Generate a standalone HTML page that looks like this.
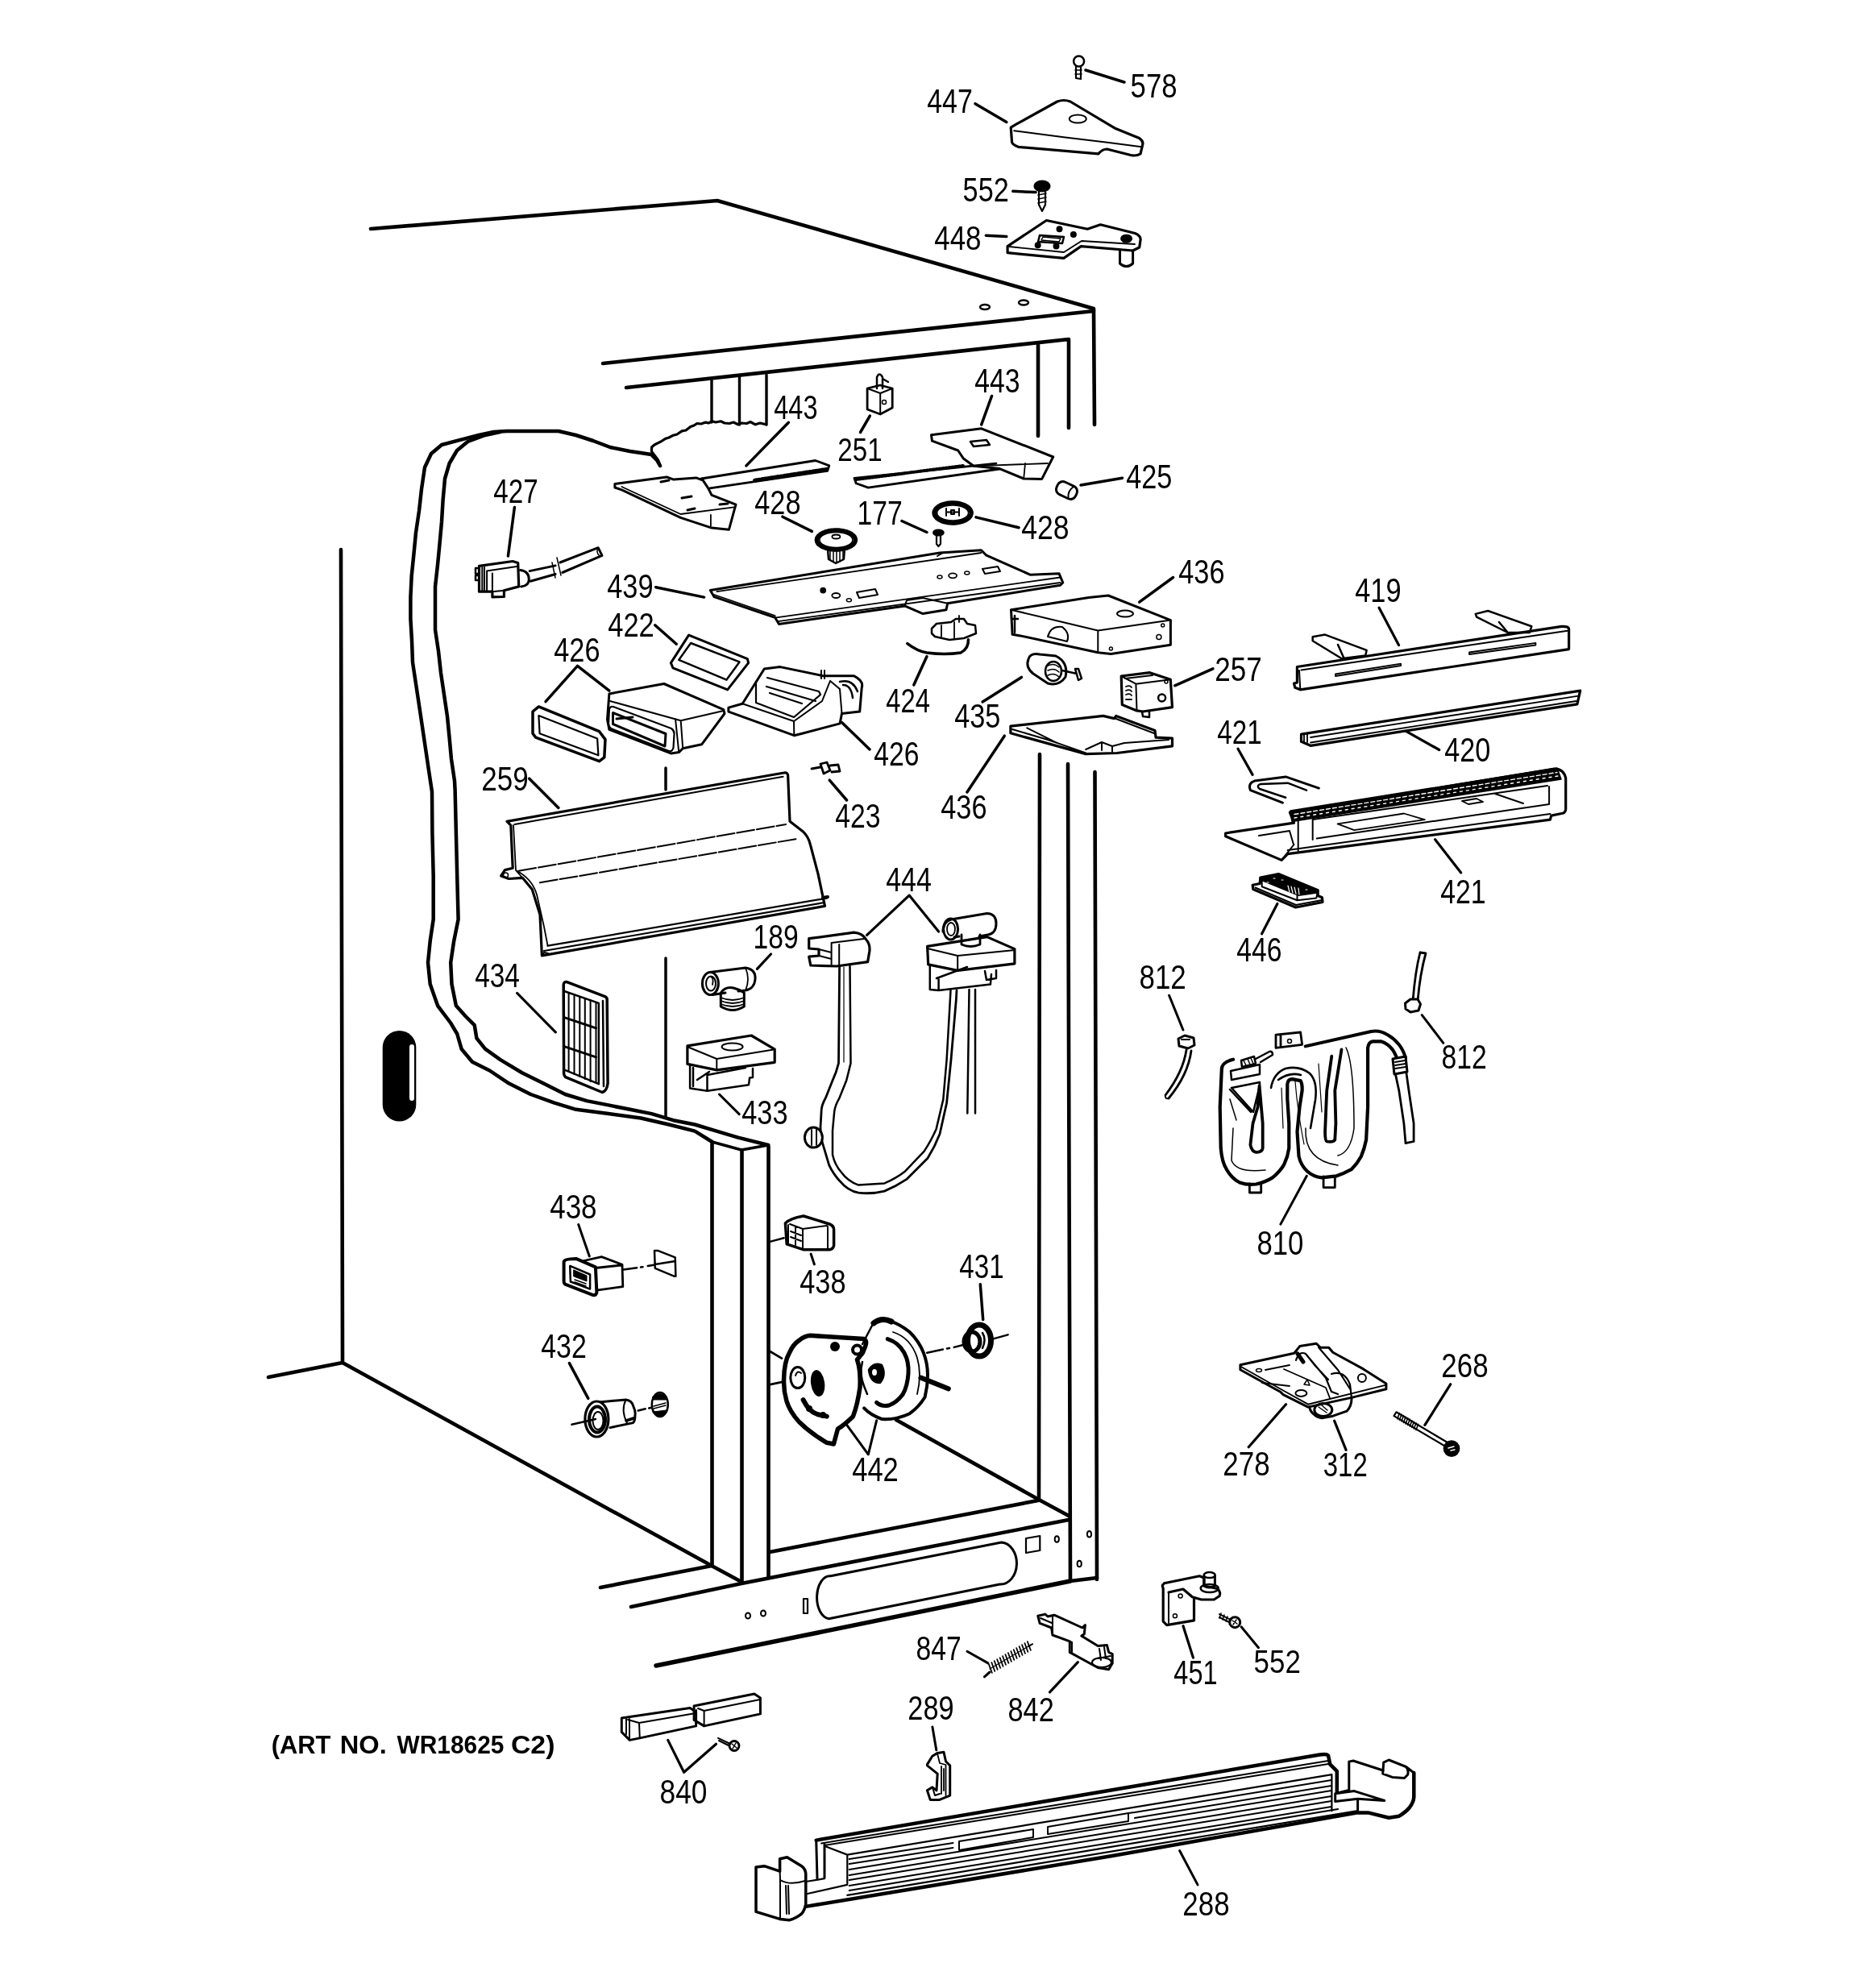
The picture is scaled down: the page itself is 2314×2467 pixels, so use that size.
<!DOCTYPE html>
<html><head><meta charset="utf-8"><style>
html,body{margin:0;padding:0;background:#fff;}
svg{display:block;}
text{font-family:"Liberation Sans",sans-serif;fill:#000;}
.t{will-change:transform;}
</style></head><body>
<svg width="2314" height="2467" viewBox="0 0 2314 2467">
<rect width="2314" height="2467" fill="#fff"/>
<g fill="none" stroke="#000" stroke-linecap="round" stroke-linejoin="round">
<!-- CABINET -->
<g id="cab" stroke-width="4.6">
<path d="M460,284 L890,249 L1357,383 L1358,527"/>
<path d="M748,451 L1357,386"/>
<path d="M777,481 L1326,421 L1326,531"/>
<path d="M1288,428 L1288,541"/>
<path d="M883,472 L883,524 M917.5,468 L917.5,527 M951,465 L951,527" stroke-width="3.4"/>
<ellipse cx="1222" cy="381" rx="6" ry="3" stroke-width="2.4"/>
<ellipse cx="1270" cy="375.5" rx="6" ry="3" stroke-width="2.4"/>
<path d="M423,682 L425,1691 L883,1943 L920,1963"/>
<path d="M333,1709 L425,1691"/>
<path d="M883.5,1419 L883.5,1943 M920.5,1427 L920.5,1963 M953.5,1423 L953.5,1958"/>
<path d="M1290,936 L1289,1861 M1325,948 L1328,1961 M1358.5,958 L1361,1960"/>
<path d="M826,1189 L826,1387 M826,953 L826,980" stroke-width="3.5"/>
<path d="M1112,1762 L1289,1861 L1326,1881"/>
<path d="M745,1970 L883,1943"/>
<path d="M783,1994 L920,1965 L1326,1886"/>
<path d="M955,1926 L1288,1862"/>
<path d="M1328,1962 L1361,1958"/>
<path d="M814,2067 L1328,1962" stroke-width="5.5"/>
</g>
<!-- insulation cutaway -->
<g stroke-width="4.5">
<path d="M819,578 L815,571 L808,564 L795,562 L781.5,560 L757,555 L736,547 L714.5,540 L693,535 L661,535 L629,535 L612.6,536 L594,540 L572,545.6 L548,552 L535,563 L527,580 L523,607 L520,634 L516,661 L513.4,688 L510.7,714.5 L509.4,741 L509.4,768 L511,795 L512,822 L516,848.5 L520,875 L524,902 L528,929 L532,956 L536,982.6 L536.4,1033.6 L537.7,1087.2 L537.7,1140.9 L533.7,1167.7 L531,1194.5 L533.7,1221.3 L543.1,1248.1 L559.2,1269.5 L567.2,1283 L572.6,1301.7 L586,1317.8 L607.5,1328.5 L631.6,1344.6 L658.4,1358 L687.9,1368.7 L714.7,1376.8 L754.9,1382.1 L795.1,1387.5 L830,1395.5 L862.1,1403.6 L883.6,1417"/>
<path d="M620.6,536 L602,540 L580.4,548 L567,559 L557.6,575 L552,594 L549.6,620.6 L548,647.5 L545.6,674 L543,701 L540,728 L540,754.7 L540,781.5 L544,808 L547,835 L551,862 L555,889 L557.6,915.5 L560,942 L564,969 L564.6,980 L565.9,1033.6 L567.2,1087.2 L568.6,1140.9 L563.2,1167.7 L559.2,1194.5 L560.5,1221.3 L565.9,1248.1 L578,1261.5 L588.7,1272.2 L591.4,1288.3 L602,1301.7 L620.9,1315.1 L647.7,1331.2 L674.5,1344.6 L701.3,1358 L728.1,1366.1 L754.9,1371.4 L781.7,1376.8 L808.5,1382.1 L835.3,1390.2 L862.1,1395.5 L889,1403.6 L915.8,1411.6 L953.3,1421"/>
<path d="M883.6,1417 L920,1427 L953.3,1421" stroke-width="3.5"/>
<path d="M819.2,577.7 L816.6,571 L808.5,560.3 L808.5,555 L812,552 L816.6,549.6 L820,548 L826,544.2 L830,543 L835.3,540.2 L840,539 L846.1,534.9 L851,534 L856.8,529.5 L861,528 L864.8,525.5 L870,526 L875.5,524.1 L879,525 L883.6,522.8 L888,524 L894.3,522.8 L899,525 L905,525.5 L910,524 L915.8,526.8 L920,525 L926.5,525.5 L931,523.5 L937.2,526.8 L943,525 L950.6,526.8" stroke-width="3.2"/>
</g>
<!-- black oval -->
<rect x="474.7" y="1279" width="41.6" height="112.5" rx="20.8" fill="#000" stroke="none"/>
<rect x="508" y="1296" width="6" height="70" rx="3" fill="#fff" stroke="none"/>
<!-- bottom slot & holes -->
<g stroke-width="3">
<path d="M1030.6,1955.8 L1242.5,1914 A20,26 0 0 1 1240.4,1966 L1028.5,2008.7 A16,26.5 0 0 1 1030.6,1955.8 Z"/>
<path d="M1273,1909 L1290.3,1906 L1290.3,1924 L1273,1927 Z" stroke-width="2.2"/>
<ellipse cx="1311.3" cy="1910" rx="2.6" ry="3.8" stroke-width="2"/>
<ellipse cx="1339.2" cy="1940.5" rx="2.6" ry="3.8" stroke-width="2"/>
<ellipse cx="1351.5" cy="1903.8" rx="2.6" ry="3.8" stroke-width="2"/>
<rect x="997" y="1984" width="5" height="18" stroke-width="2.2"/>
<ellipse cx="928" cy="2005" rx="3" ry="3.5" stroke-width="2"/>
<ellipse cx="947" cy="2002" rx="3" ry="3.5" stroke-width="2"/>
</g>
<!-- TOP PARTS -->
<g stroke-width="3">
<!-- 578 screw -->
<circle cx="1338.6" cy="76" r="6.5" stroke-width="2.5"/>
<path d="M1335,82 L1335,97 L1341,98 L1341,82" stroke-width="2.2"/>
<path d="M1334,87 L1342,87 M1334,92 L1342,92" stroke-width="1.5"/>
<path d="M1347,87 L1395,102" stroke-width="3.5"/>
<!-- 447 cover -->
<path d="M1260.9,154.2 L1311.8,126 Q1320,123 1327.9,126 L1384.2,159.5 L1413.7,171.6 Q1419,175 1417.7,179.6 L1415,190.9 Q1410,194 1403,192.5 L1373.5,185 Q1368,185 1362.7,190.9 L1263.5,182.3 Q1255,179 1255.5,175.6 L1254.2,158.2 Z" stroke-width="3.2"/>
<path d="M1258.2,162.2 L1319.8,170.2 L1376,177 L1416.4,182.3" stroke-width="2"/>
<ellipse cx="1337.3" cy="147.5" rx="10.5" ry="5" stroke-width="2"/>
<path d="M1210,128.7 L1248.8,151.5" stroke-width="3.5"/>
<!-- 552 screw top -->
<ellipse cx="1293" cy="231" rx="9" ry="6" fill="#000"/>
<path d="M1289,236 L1289,254 L1293,262 L1297,254 L1297,236" stroke-width="2.2"/>
<path d="M1288,242 L1298,240 M1288,247 L1298,245 M1288,252 L1298,250" stroke-width="1.5"/>
<path d="M1256.8,237.3 L1285,238.6" stroke-width="3.5"/>
<!-- 448 hinge -->
<path d="M1250.1,305.6 L1298.4,273.5 L1349.3,284.2 L1365.4,278.8 L1408.3,289.5 Q1416,293 1415,298 L1413.7,307 L1405.6,311 L1341.3,305.6 L1319.8,320.4 L1250.1,313.7 Z" stroke-width="3.2"/>
<path d="M1252,306 L1320,313 L1342,299 L1408,303" stroke-width="1.8"/>
<path d="M1389.5,311 L1389.5,327 Q1397.6,334 1405.6,327 L1405.6,311" stroke-width="3"/>
<path d="M1288,300 L1290,292 L1320,294 L1318,302 Z" stroke-width="2.5"/>
<path d="M1292,298 L1294,294 L1316,296 L1314,300 Z" stroke-width="1.5"/>
<circle cx="1314.5" cy="284.2" r="2.5" fill="#000"/>
<circle cx="1331.9" cy="290.9" r="2.5" fill="#000"/>
<circle cx="1287.7" cy="304.3" r="2.5" fill="#000"/>
<circle cx="1310.5" cy="305.6" r="2.5" fill="#000"/>
<ellipse cx="1397.6" cy="296.2" rx="6" ry="4" fill="#000"/>
<path d="M1223.3,292.2 L1248.8,293.6" stroke-width="3.5"/>
<!-- 251 -->
<path d="M1076.1,482 L1092,478 L1107.2,482 L1107.2,506 L1092.2,514 L1076.1,508 Z" stroke-width="2.8"/>
<path d="M1076.1,482 L1092.2,488 L1107.2,482 M1092.2,488 L1092.2,514" stroke-width="2"/>
<path d="M1088,482 L1088,468 Q1091,461 1095,468 L1095,482 M1095,470 L1102,474" stroke-width="2.5"/>
<circle cx="1097" cy="499" r="2.6" stroke-width="1.5"/>
<path d="M1079.3,516.1 L1067.5,536.5" stroke-width="3.5"/>
<!-- 443 left plate -->
<path d="M762.9,600.4 L827.2,591.9 L835.8,595.1 L863.7,592.9 L872.3,596.1 L878.7,605.8 L883,614.4 L913,626.2 L910.9,633.7 L904.4,657.3 L883,655.1 L844.4,642.3 L771.4,607.9 L762.9,605 Z" stroke-width="3"/>
<path d="M844.4,638 L910.9,629.4 M881.9,639 L881.9,653 M771.4,604 L844.4,638" stroke-width="1.8"/>
<path d="M870.1,594 L1011.7,571.5 L1028.8,577.9 L1026.7,584.3 L880.8,605.8" stroke-width="2.8"/>
<path d="M936.6,596.1 L1026.7,582.2" stroke-width="5" stroke-dasharray="2 2"/>
<path d="M820,598 L830,596 M846,618 L858,616 M893,626 L903,625 M853,633 L862,631" stroke-width="3"/>
<path d="M925.9,577.9 L978.4,524.3" stroke-width="3.5"/>
<!-- 443 right plate -->
<path d="M1155.5,539.7 L1217.7,531.8 L1306.7,567 L1292.7,594.4 L1270.2,594 L1240.2,581.6 L1208,578.3 L1195.1,568.7 L1188.7,559 L1156.5,547.2 Z" stroke-width="3"/>
<path d="M1208,578.3 L1300,575 M1270.2,594 L1272,575" stroke-width="1.8"/>
<path d="M1204,548 L1224,546 L1228,552 L1208,554 Z" stroke-width="2.5"/>
<path d="M1060,593.4 L1235.9,575.1 M1062.2,599.8 L1077.2,605.1 L1240,582 M1060,593.4 L1062.2,599.8" stroke-width="2.8"/>
<path d="M1062,595 L1195,578" stroke-width="4" stroke-dasharray="2 2"/>
<path d="M1230.5,491.5 L1217.7,526.9" stroke-width="3.5"/>
<!-- 425 pin -->
<g transform="translate(1323.5,608.5) rotate(25)">
<rect x="-13" y="-8.5" width="26" height="17" rx="7" stroke-width="3"/>
<path d="M6,-8 Q1,0 6,8" stroke-width="2"/>
</g>
<path d="M1341,601.9 L1392.5,593.3" stroke-width="3.5"/>
<!-- 428 gear left -->
<path d="M1026.7,678 L1028,694 L1037,699 L1047,694 L1048.1,678" stroke-width="2.5"/>
<path d="M1030,680 L1030,694 M1034,682 L1034,697 M1038,682 L1038,698 M1042,682 L1042,697 M1046,680 L1046,694" stroke-width="1.5"/>
<ellipse cx="1037.4" cy="670" rx="24" ry="12" fill="#fff" stroke-width="5.5" stroke-dasharray="1.6 1.4"/>
<ellipse cx="1037.4" cy="670" rx="20.5" ry="9.5" stroke-width="1.6"/>
<path d="M1013.4,670 L1014,676 Q1037,690 1060,676 L1061.4,670" stroke-width="2.5"/>
<ellipse cx="1037.4" cy="666" rx="5" ry="2.5" stroke-width="1.8"/>
<path d="M970.9,641.2 L1007.4,659.4" stroke-width="3.5"/>
<!-- 177 screw -->
<path d="M1118.9,646.5 L1150,660.5" stroke-width="3.5"/>
</g>
<!-- MID-UPPER PARTS -->
<g stroke-width="2.8">
<!-- 177 screw -->
<ellipse cx="1164.4" cy="661" rx="6" ry="3.2" fill="#000"/>
<path d="M1162,663 L1162,675 L1164.4,678 L1167,675 L1167,663" stroke-width="2.2"/>
<!-- 428 gear right -->
<ellipse cx="1182.1" cy="636.5" rx="23" ry="12.5" stroke-width="5.5" stroke-dasharray="1.6 1.4"/>
<ellipse cx="1182.1" cy="636.5" rx="19.5" ry="9.5" stroke-width="1.6"/>
<path d="M1160,638 Q1162,648 1182,650 Q1202,648 1205,638" stroke-width="2.5"/>
<path d="M1174,631 L1174,640 M1190,631 L1190,640 M1174,635.5 L1190,635.5 M1180,633 L1184,633 L1184,638 L1180,638 Z" stroke-width="2"/>
<path d="M1211,641.9 L1264.1,654.7" stroke-width="3.5"/>
<!-- 439 plate -->
<path d="M881.3,732.6 L1166,686 L1217.5,682.7 L1223.9,689.2 L1278.6,713.3 L1314,711.7 L1318.8,723 L1315.6,726.2 L1175.7,748.7 L1174,756.7 L1145.1,761.6 L1122.6,751.9 L966.5,774.4 L961.7,766.4 L886.1,740.7 Z" stroke-width="3"/>
<path d="M963.3,766.4 L1315.6,716.5 M964.9,771.2 L1315.6,723 M889.3,734.2 L1217.5,686 M886.1,738 L961.7,764" stroke-width="1.8"/>
<path d="M1163,690 L1170,686 L1180,685 M1122.6,751.9 L1125,745 L1145,742 L1175.7,748.7" stroke-width="2"/>
<circle cx="1021.2" cy="732.6" r="2.5" fill="#000"/>
<ellipse cx="1037.3" cy="739" rx="5" ry="3" stroke-width="1.8"/>
<ellipse cx="1053.4" cy="744.8" rx="3" ry="2" stroke-width="1.5"/>
<ellipse cx="1166" cy="715.9" rx="3" ry="2" stroke-width="1.5"/>
<ellipse cx="1182.1" cy="714.3" rx="5" ry="3" stroke-width="1.8"/>
<ellipse cx="1199.8" cy="711" rx="3" ry="2" stroke-width="1.5"/>
<path d="M1063,735 L1086,731 L1089,738 L1066,742 Z M1219,706 L1238,703 L1241,709 L1222,712 Z" stroke-width="2"/>
<path d="M813.7,728.7 L873.6,741.1" stroke-width="3.5"/>
<!-- 436 box upper -->
<path d="M1254.5,756.7 L1351,741.6 L1375.1,739 L1452.4,769.6 L1452.4,800.2 L1378.4,811.4 L1362.3,809.8 L1265.8,788.9 L1256.1,787.3 Z" stroke-width="3"/>
<path d="M1254.5,756.7 L1362.3,782.5 L1452.4,769.6 M1362.3,782.5 L1362.3,809.8" stroke-width="2"/>
<path d="M1259,764 L1259,785 M1256,768 L1263,768" stroke-width="2.5"/>
<ellipse cx="1396" cy="761.6" rx="10" ry="4" stroke-width="2"/>
<path d="M1300,790 Q1304,776 1318,778 Q1328,786 1324,796 Z" stroke-width="2"/>
<circle cx="1437.9" cy="790.5" r="3" stroke-width="1.5"/>
<circle cx="1378.4" cy="805" r="2" stroke-width="1.5"/>
<circle cx="1442.7" cy="776" r="2" stroke-width="1.5"/>
<path d="M1413.7,747.1 L1455.6,716.5" stroke-width="3.5"/>
<!-- 424 thermostat -->
<path d="M1156,780 L1162,774 L1180,772 L1186,768 L1196,768 L1200,774 L1210,776 L1211,786 L1196,792 L1178,794 L1160,790 L1156,786 Z" stroke-width="2.5"/>
<path d="M1168,776 L1168,790 M1184,772 L1184,792 M1190,764 L1190,772" stroke-width="1.8"/>
<path d="M1125.8,798.6 Q1138,808 1150,810 Q1172,813 1192,810 Q1202,805 1201.4,793.7" stroke-width="3.5"/>
<path d="M1149.9,814.7 L1133.8,850" stroke-width="3.5"/>
<!-- 435 socket -->
<path d="M1276,818 Q1278,810 1290,812 L1310,814 Q1326,822 1322,840 Q1314,852 1300,848 L1282,836 Q1272,828 1276,818 Z" stroke-width="3"/>
<ellipse cx="1307" cy="833" rx="10" ry="12" stroke-width="2.5"/>
<path d="M1300,826 Q1308,822 1314,828 M1300,832 Q1308,828 1314,834 M1300,838 Q1308,834 1314,840" stroke-width="1.5"/>
<path d="M1318,832 L1336,836 M1334,830 L1338,844 L1342,842 L1338,830 Z" stroke-width="2.5"/>
<path d="M1267.4,840.4 L1219.1,871" stroke-width="3.5"/>
<!-- 422 gasket -->
<path d="M832.4,822.6 L854.6,788.1 L927.4,817.7 L928.6,822.6 L902.7,855.9 L834.9,828.8 Z" stroke-width="3"/>
<path d="M842.3,818.9 L857.1,798 L917.5,821.4 L901.5,843.6 Z" stroke-width="2.5"/>
<path d="M812.7,775.8 L839.3,799.2" stroke-width="3.5"/>
<!-- 426 left gasket -->
<path d="M661,883 L668.4,876.9 L743.6,907.7 L751,917.6 L749.8,939.8 L743.6,944.7 L664.7,915.1 L661,910.2 Z" stroke-width="3.5"/>
<path d="M668.4,888 L741.1,916.4 L742.4,937.3 L669.6,910.2 Z" stroke-width="2.2"/>
<!-- 426 left duct -->
<path d="M755.9,860.9 L823.8,848.5 L897.8,880.6 L899,885.5 L870.6,923.8 L847.2,928.7 L842.3,933.6 L832.4,934.9 L755.9,905.3 L753.5,892.9 Z" stroke-width="3"/>
<path d="M757,870 L844.7,894.2 L897.8,882 M844.7,894.2 L847.2,928.7 M838,892 L842.3,933.6" stroke-width="2"/>
<path d="M756,880 Q757,876 761,877 L833,904 Q837,907 836.5,911 L835.5,928 Q834,933 830,932 L758,904 Q755,902 755,898 Z" stroke-width="2.2"/>
<path d="M760.5,884.5 L826,910.5 L825,926 L760.5,898.5 Z" stroke-width="3"/>
<path d="M765,892 L785,890" stroke-width="3"/>
<path d="M677,870.7 L716.5,826.3 L755.9,857.2" stroke-width="3.5"/>
<!-- 426 right housing -->
<path d="M903.9,878.1 L921.2,873.2 L948.3,830 L968.1,827.6 L1021.1,838.7 L1059.3,838.7 Q1072,845 1069.2,853.5 L1066.7,883.1 L1044.5,885.5 L1042.1,897.9 L995.2,910.2 L985.3,912.7 L903.9,883.1 Z" stroke-width="3"/>
<path d="M938,846 L938,872 L985,890 L1018,862 M952,841 L1016,858 L1018,862 M951,852 L1012,870 M955,860 L995,873" stroke-width="2.2"/>
<path d="M921.2,873.2 L985,895 L1020,870 L1030,845 M985,895 L985.3,912.7 M1030,845 L1042,855 L1044.5,885.5" stroke-width="2"/>
<path d="M1042,846 Q1058,842 1064,858 M1046,850 Q1056,850 1058,866" stroke-width="2.5"/>
<path d="M1019,832 L1019,842 M1023,832 L1023,842" stroke-width="2"/>
<path d="M1044.5,896.6 L1079.1,929.9" stroke-width="3.5"/>
<!-- 423 -->
<path d="M1007,954 L1018,952 M1018,948 L1026,946 L1030,956 L1022,960 Z M1030,950 L1040,949 L1042,957 L1032,958" stroke-width="2.8"/>
<path d="M1029.2,968.1 L1050.6,993" stroke-width="3.5"/>
</g>
<!-- 427 sensor -->
<g stroke-width="2.8">
<path d="M594.5,702.3 L636,696.5 L642.7,698.5 L643.7,727.9 L625.4,732.7 L625.4,740.5 L610.9,740.9 L610.9,734.2 L594.5,734.2 Z" stroke-width="3.2"/>
<path d="M604.1,708.6 L642.7,702.8 M610.9,711.5 L610.9,732.7 M598.3,704 L598.3,734 M601,704 L601,734 M604.1,708.6 L604.1,733 M610.9,734.2 L625.4,732.7" stroke-width="2"/>
<path d="M594.5,705 L590,705 L590,712 L594.5,712 M594.5,714 L590,714 L590,720 L594.5,720" stroke-width="2.5"/>
<path d="M645.6,707.6 Q656.3,709 656.3,719 Q656.3,727 646.6,727.9" stroke-width="3"/>
<path d="M657.2,708.6 L689.1,701.9 M658.2,721.2 L689.1,712.5" stroke-width="3"/>
<path d="M685,698 L689,717 M691,692 L696,714" stroke-width="1.5"/>
<path d="M694.9,698 L742.2,679.7 L747,689.3 L697.8,710.5" stroke-width="3"/>
<path d="M742.2,679.7 Q739,686 744,690" stroke-width="1.5"/>
<path d="M638.4,629.5 L630.4,690.1" stroke-width="3.5"/>
</g>
<!-- 259 panel -->
<g stroke-width="3">
<path d="M629,1019.3 L972.8,959 Q977.7,958 977.7,963.8 L980,1019.3 L995.8,1031.4 Q1003,1038 1005.4,1048.2 L1015,1084.4 L1021.1,1113.4 L1023.5,1124.3 L672.4,1185.8 L670,1135.1 L660.3,1103.7 L648.3,1089.3 L631.4,1090.5 L621.7,1086.9 L626.5,1079.6 L636.2,1077.2 L633.8,1024.1 Z" stroke-width="3.2"/>
<path d="M638.6,1022.9 L971.6,963.8" stroke-width="2"/>
<path d="M637,1024 L640,1080 L648.3,1089.3 M640,1080 Q660,1090 666,1110 L675,1150 L679.6,1173.7" stroke-width="1.8"/>
<path d="M643.4,1080.8 L975.2,1022.9 M670,1095.3 L988.5,1041" stroke-width="2" stroke-dasharray="22 3"/>
<path d="M679.6,1173.7 L1025.9,1114.6 M675,1180 L1023,1120" stroke-width="2.2"/>
<path d="M1021,1114 L1027,1113" stroke-width="4"/>
<circle cx="627.5" cy="1086" r="3" stroke-width="1.5"/>
<path d="M672.4,1185.8 L675,1182 L680,1183" stroke-width="2"/>
<path d="M656.7,966.2 L692.9,1002.4" stroke-width="3.5"/>
</g>
<!-- 257 timer -->
<g stroke-width="2.8">
<path d="M1391.2,839 L1426.6,834.7 L1452.3,843.3 L1454.5,877.6 L1418,883 L1410.5,881.9 L1392.3,874.4 Z" stroke-width="3.2"/>
<path d="M1391.2,839 L1409.4,848.7 L1452.3,843.3 M1409.4,848.7 L1410.5,881.9 M1396,842 L1430,838" stroke-width="2"/>
<path d="M1397,852 Q1402,850 1404,853 M1397,857 Q1402,855 1404,858 M1397,862 Q1402,860 1404,863 M1397,868 L1404,868" stroke-width="1.8"/>
<circle cx="1441.6" cy="866" r="4.5" stroke-width="2.5"/>
<circle cx="1447" cy="846" r="2" stroke-width="1.5"/>
<path d="M1417,883 L1418,889 L1426,890 L1426,883" stroke-width="2.5"/>
<path d="M1457.7,850.8 L1504.9,829.8" stroke-width="3.5"/>
</g>
<!-- 436 lower tray -->
<g stroke-width="2.8">
<path d="M1253.9,901.2 L1368.7,888.4 L1382.6,891.6 L1384.8,888.4 L1433,906.6 L1434.1,915.2 L1454.5,916.2 L1454.5,925.9 L1385.8,934.5 L1347.2,935.6 L1253.9,909.8 Z" stroke-width="3.2"/>
<path d="M1274.3,903.4 L1310.8,921.6 L1347.2,934.5 M1256,905 L1300,918 L1312,922" stroke-width="2"/>
<path d="M1384.8,892 L1432,910 M1347.2,930 L1367,921 L1380,926 L1395,922 L1450,918 M1367,921 L1367,931 M1380,926 L1380,933" stroke-width="2"/>
<path d="M1246.3,913.2 L1199.9,983" stroke-width="3.5"/>
</g>
<!-- 419 bar -->
<g stroke-width="2.8">
<path d="M1609.4,827.5 L1937.6,777.3 Q1946.6,777 1946.6,781 L1946.6,805.6 L1613.3,855.8 L1606.8,853.3 L1605.5,848.1 L1609.4,847 Z" stroke-width="3.2"/>
<path d="M1614.5,831.4 L1946.6,782.5 M1612,832 L1613.3,855.8" stroke-width="2"/>
<path d="M1657,836.5 L1738.1,823.7 L1738.1,826 L1657,839 Z M1823,809.5 L1905.4,797.9 L1905.4,800.5 L1823,812 Z" stroke-width="1.8"/>
<path d="M1628.7,790.2 L1644.1,787.6 L1695.6,806.9 L1694.3,813.4 L1664.7,817.2 L1628.7,795.3 Z M1660,800 L1668,818" stroke-width="2.5"/>
<path d="M1830.8,761.9 L1846.2,758 L1900.3,777.3 L1897.7,785 L1870.7,785 L1832.1,765.7 Z M1860,772 L1870,784" stroke-width="2.5"/>
<path d="M1711.1,754.2 L1735.5,800.5" stroke-width="3.2"/>
</g>
<!-- 420 bar -->
<g stroke-width="2.8">
<path d="M1614.5,911.2 L1960.7,857.1 L1956.9,873.8 L1626.1,925.3 L1614.5,920.2 Z" stroke-width="3.2"/>
<path d="M1626.1,915 L1958.2,863.6 M1626.1,921.5 L1955.6,870 M1618,912 L1618,920 M1622,911 L1622,921" stroke-width="1.8"/>
<path d="M1744.5,907.3 L1785.7,930.5" stroke-width="3.2"/>
</g>
<!-- 421 top clip -->
<g stroke-width="2.8">
<path d="M1636.4,978.1 L1595.2,963.9 L1556.6,969.1 Q1548,972 1551.5,980.7 L1591.4,996.1" stroke-width="3"/>
<path d="M1621,980.7 L1597.8,971.7 L1564.4,972.9 Q1558,975 1563,979 L1595.2,989.7" stroke-width="2.5"/>
<path d="M1536,929.2 L1554.1,961.4" stroke-width="3.2"/>
</g>
<!-- 421 lower tray -->
<g stroke-width="2.8">
<path d="M1520.6,1034 L1605.5,1021.1 L1600.4,1008.2 L1928.6,954.2 Q1940,954 1942.7,965.7 L1942.7,1004.4 Q1942,1009 1937.6,1009.5 L1924.7,1012.1 L1923.4,1017.2 L1597.8,1059.7 L1590.1,1067.4 L1520.6,1037.8 Z" stroke-width="3.2"/>
<path d="M1601,1006 L1932,953 L1937,967 L1603,1019.5 Z" fill="#000" stroke-width="1.5"/>
<path d="M1606,1010.5 L1932,958.5" stroke="#fff" stroke-width="1.4" stroke-dasharray="5 3"/>
<path d="M1606,1015 L1933,963" stroke="#fff" stroke-width="1.4" stroke-dasharray="3 5"/>
<path d="M1610.7,1018 L1610.7,1056 M1628.7,1017 L1628.7,1042 M1633.8,1040.4 L1922.1,997.9 M1922.1,976 L1922.1,998 M1628.7,1017 L1920,975 M1597.8,1055 L1923.4,1010" stroke-width="2"/>
<path d="M1659.6,1022.4 L1742,1009.5 L1767.7,1017.2 L1680.2,1030.1 Z M1814,994 L1832,991 L1840,995 L1822,998 Z" stroke-width="1.8"/>
<path d="M1562,1037 L1600,1031 L1605,1048 M1590.1,1067.4 L1605.5,1048 M1855,985 L1890,997" stroke-width="2"/>
<path d="M1780.6,1041.7 L1812.7,1082.9" stroke-width="3.2"/>
</g>
<!-- 446 -->
<g stroke-width="2.8">
<path d="M1554.2,1098.3 L1563.2,1096.5 L1563.8,1089 L1586.3,1084.5 L1635.2,1104.7 L1635.2,1111.5 L1640.4,1113.8 L1641,1119.5 L1607.6,1126 L1554.8,1103.5 Z" stroke-width="3.2"/>
<path d="M1565.7,1092.5 L1564.5,1089.5 L1586.3,1085 L1634,1105 L1634,1108 L1611.4,1111.2 Z" fill="#000" stroke-width="1.5"/>
<path d="M1598,1099 L1600,1107 M1602,1100 L1604,1108 M1606,1101 L1608,1109 M1611,1102 L1612,1110" stroke="#fff" stroke-width="1.2"/>
<path d="M1580,1090 L1582,1090 M1590,1092 L1592,1092 M1572,1095 L1574,1095 M1620,1104 L1622,1104" stroke="#fff" stroke-width="1.2"/>
<path d="M1565.7,1092.5 L1565.7,1100.2 L1609.5,1117.3 L1633.3,1114.4 L1634.5,1108 M1609.5,1111 L1609.5,1117.3 M1557.5,1101.5 L1608,1123 L1640,1117" stroke-width="2"/>
<path d="M1584.9,1121.5 L1565.6,1158.8" stroke-width="3.2"/>
</g>
<!-- 189 tee -->
<g stroke-width="2.8">
<path d="M881,1206.5 L925,1201 Q938,1203 937,1215 Q936,1227 925,1229 L916,1230 M900,1232 L884,1234.5" stroke-width="3"/>
<ellipse cx="881.4" cy="1220.5" rx="10" ry="14" stroke-width="3"/>
<ellipse cx="882" cy="1220.5" rx="6" ry="9" stroke-width="2"/>
<path d="M925,1201 Q931,1215 925,1229 M884,1222 Q886,1214 882,1212" stroke-width="1.8"/>
<path d="M894.3,1232 Q900,1224 910,1226 Q918,1228 923.3,1232 L923.3,1249 Q909,1258 894.3,1249 Z" stroke-width="3"/>
<path d="M894.3,1238 Q909,1244 923.3,1238 M894.3,1242 Q909,1248 923.3,1242 M894.3,1246 Q909,1252 923.3,1246" stroke-width="1.8"/>
<path d="M956.5,1184 L939.4,1202.3" stroke-width="3.2"/>
</g>
<!-- 444 connectors + tubes -->
<g stroke-width="2.8">
<path d="M1003.7,1164.7 L1059.5,1157.2 Q1070,1158 1074.5,1165.8 Q1080,1172 1078.8,1180.8 L1076.6,1193.7 L1038,1199 L1005.8,1198 L1003.7,1187.2 L1016,1186 L1016,1178 L1003.7,1177 Z" stroke-width="3.2"/>
<path d="M1031.6,1170 L1031.6,1197 M1041.2,1172 L1041.2,1199 M1031.6,1170 L1072,1165 M1016,1178 L1031.6,1182 M1016,1186 L1031.6,1190" stroke-width="2"/>
<path d="M1041.6,1199 L1040.5,1319.4 Q1038,1330 1033,1340.8 L1024.5,1362.3 Q1019,1372 1019.1,1379.4 L1018,1398.7 Q1018,1412 1022.3,1424.4 L1028.7,1445.9 Q1034,1457 1041.6,1465.2 Q1052,1478 1065.2,1480.2 Q1082,1482 1097.4,1478.1 Q1112,1472 1125.3,1463.1 L1151,1437.3 Q1160,1423 1166,1407.3 L1174.6,1368.7 L1180,1315 L1186.4,1240 L1187,1229" stroke-width="2.8"/>
<path d="M1054.5,1199 L1055.5,1319.4 Q1053,1330 1050.2,1340.8 L1041.6,1362.3 Q1036,1372 1035.2,1379.4 L1033,1403 L1033,1433 Q1036,1446 1043.7,1454.5 Q1052,1466 1065.2,1470.6 L1097.4,1468.4 Q1112,1462 1123.1,1453.4 L1146.7,1428.7 Q1156,1414 1161.7,1400.9 L1170.3,1364.4 L1174.6,1315 L1178.9,1240 L1179.5,1229" stroke-width="2.5"/>
<path d="M1047,1200 L1047,1318" stroke-width="1.2"/>
<ellipse cx="1009.4" cy="1411.6" rx="11" ry="12.5" fill="#fff" stroke-width="3"/>
<path d="M1007,1402 L1007,1421 M1013,1401 L1013,1421" stroke-width="2"/>
<path d="M1150.6,1174.4 L1224.6,1162.6 L1258.9,1177.6 L1258.9,1195.8 L1188.2,1204.4 L1151.7,1196.9 Z" stroke-width="3.2"/>
<path d="M1150.6,1177 L1188.2,1186 L1258.9,1179 M1188.2,1186 L1188.2,1204.4" stroke-width="2"/>
<path d="M1153.8,1199 L1153.8,1228 L1164.6,1229 L1228.9,1221.6 L1230,1209 M1162,1214 L1200,1200 M1164.6,1215 L1164.6,1229 M1222,1205 L1224,1216 L1236,1214 L1236,1204" stroke-width="2.5"/>
<path d="M1170,1156 Q1170,1144 1180,1141 L1224.6,1133.6 Q1236,1134 1236,1146 Q1236,1158 1226,1160 L1215,1162 M1190,1162 L1184,1163" stroke-width="3"/>
<ellipse cx="1179.6" cy="1152.9" rx="9" ry="13" stroke-width="3"/>
<ellipse cx="1180" cy="1153" rx="5" ry="8" stroke-width="1.8"/>
<path d="M1193,1160 L1193,1172 Q1204,1177 1216,1172 L1216,1160" stroke-width="2.8"/>
<path d="M1202.5,1228 L1200.3,1381.6 M1210,1228 L1210,1381.6" stroke-width="2.5"/>
<path d="M1075.6,1160.4 L1128.1,1111.1 L1164.6,1156.1" stroke-width="3.2"/>
</g>
<!-- 433 -->
<g stroke-width="2.8">
<path d="M852.9,1297.9 L932.2,1285 L961.2,1302.2 L961.2,1318.3 L889.3,1327.9 L852.9,1320.4 Z" stroke-width="3.2"/>
<path d="M852.9,1299 L889.3,1314 L961.2,1302.2 M889.3,1314 L889.3,1327.9" stroke-width="2"/>
<ellipse cx="908.6" cy="1299" rx="13" ry="4.5" stroke-width="2"/>
<path d="M856.1,1322.6 L856.1,1350.5 L877.5,1353.7 L929,1346.2 L930.1,1337.6 L934,1337 L934,1326 M877.5,1353.7 L877.5,1334 L925,1325 M865,1340 L880,1330 M860,1325 L860,1348" stroke-width="2.5"/>
<path d="M892.5,1358 L917.2,1382.6" stroke-width="3"/>
</g>
<!-- 434 vent -->
<g stroke-width="2.8">
<path d="M699.2,1222 Q699.5,1218 703.5,1218.7 L750.6,1236.7 Q753.5,1238 753.2,1241 L754.1,1344.4 Q753,1354 747.2,1355.5 L701.7,1336.7 Q699.6,1334 699.6,1332.4 Z" stroke-width="3.5"/>
<path d="M700.9,1230.3 L742.9,1244.9 L742.9,1345.2 M701.7,1328.1 L742.9,1345.2 M748,1242 L749,1348" stroke-width="2.5"/>
<path d="M705.6,1232 L705.6,1330 M712.5,1234 L712.5,1333 M719.3,1237 L719.3,1336 M725.8,1239 L725.8,1339 M732.6,1241 L732.6,1342 M739.5,1244 L739.5,1344" stroke-width="2"/>
<path d="M700.9,1262.9 L739.5,1275.8 M700.9,1298.9 L739.5,1311.8" stroke-width="3"/>
<path d="M641.7,1232.5 L689.3,1280.9" stroke-width="3.2"/>
</g>
<!-- 812 left -->
<g stroke-width="2.8">
<path d="M1472,1303 Q1468,1330 1446,1359 M1478,1304 Q1474,1334 1450,1363" stroke-width="2.8"/>
<path d="M1446,1359 Q1445,1364 1450,1363" stroke-width="2"/>
<path d="M1462,1289 L1470,1285 L1481,1288 L1482,1297 L1474,1301 L1463,1298 Z" fill="#fff" stroke-width="3"/>
<path d="M1466,1290 L1476,1290" stroke-width="2"/>
<path d="M1450.6,1235.2 L1467.9,1278" stroke-width="3"/>
</g>
<!-- 812 right -->
<g stroke-width="2.8">
<path d="M1762,1182 Q1756,1205 1753,1242 M1769,1183 Q1762,1208 1759,1242 M1762,1182 L1769,1183" stroke-width="2.8"/>
<path d="M1743.5,1245 L1750,1240 L1759,1240 L1762.5,1246 L1760,1254 L1750,1256 L1744,1252 Z" fill="#fff" stroke-width="3"/>
<path d="M1764.3,1259.6 L1790.8,1294.3" stroke-width="3"/>
</g>
<!-- 810 heater -->
<g stroke-width="3">
<path d="M1530,1314.7 Q1516,1318 1515.8,1326.9 L1513.7,1373.7 L1514.7,1424.7 Q1516,1442 1521.9,1451.2 Q1528,1462 1538.2,1467.5 Q1548,1471 1558.5,1469.5 Q1570,1467 1578.9,1461.4 Q1588,1454 1593.2,1445.1 Q1598,1435 1599.3,1424.7 L1599.3,1394.1 L1597.3,1363.6 L1597.3,1345.2 Q1598,1339 1603.4,1339.1 L1613.6,1341.1 Q1616,1345 1615.6,1353.4 L1612.5,1373.7 L1609.5,1404.3 L1611.5,1434.9 Q1614,1446 1621.7,1453.2 Q1629,1460 1640,1461.4 L1658.4,1459.3 Q1668,1456 1676.7,1451.2 Q1684,1444 1688.9,1434.9 Q1693,1425 1695.1,1414.5 L1697.1,1373.7 L1697.1,1322.8 L1697.1,1300.4 Q1698,1293 1703.2,1292.3 L1713.4,1292.3 Q1722,1295 1727.7,1302.4 Q1733,1310 1735,1320" stroke-width="4.2"/>
<path d="M1619.7,1298.4 L1701.2,1280 Q1712,1278 1721.5,1284.1 Q1730,1289 1735.8,1296.3 Q1741,1303 1744,1312.6" stroke-width="4"/>
<path d="M1562.6,1347.3 L1560.6,1373.7 L1554.5,1394.1 L1551.4,1420.6 Q1553,1429 1558.5,1429.8 Q1566,1430 1566.7,1424.7 L1566.7,1394.1 L1562.6,1347.3" stroke-width="3.8"/>
<path d="M1652.3,1310.6 L1646.2,1353.4 L1644.1,1404.3 Q1644,1416 1646.2,1416.5 Q1654,1418 1656.3,1414.5 L1657.4,1394.1 L1656.3,1353.4 L1664.5,1302.4" stroke-width="3.8"/>
<path d="M1577,1350 Q1580,1332 1595,1326 Q1612,1322 1625,1332 Q1635,1342 1632,1365 L1626,1400 M1586,1340 Q1600,1330 1614,1334" stroke-width="2.6"/>
<path d="M1526,1364 L1534,1390 M1530,1400 L1528,1440 Q1534,1456 1570,1452 M1620,1400 Q1618,1440 1660,1446 M1670,1300 Q1680,1320 1680,1400 Q1676,1430 1660,1434" stroke-width="1.5"/>
<path d="M1607,1342 Q1610,1380 1618,1420 M1590,1350 L1592,1400 M1636,1320 L1640,1380" stroke-width="1.2"/>
<path d="M1527,1329 L1563,1321 L1563,1333 L1528,1340 Z M1528,1350 L1563,1343 L1563,1347 L1555,1380 Z M1526,1352 L1552,1380" stroke-width="2.5"/>
<path d="M1540,1316 L1556,1311 L1558,1320 L1541,1324 Z" stroke-width="2.5"/>
<path d="M1543,1316 L1546,1322 M1548,1314 L1551,1321 M1552,1313 L1555,1320" stroke-width="1.5"/>
<path d="M1558,1314 L1575,1305 Q1579,1304 1579,1309 L1564,1318" stroke-width="2.5"/>
<path d="M1583,1284.1 L1613.6,1281 L1615.6,1296.3 L1583,1300.4 Z M1589,1285 L1589,1299" stroke-width="2.8"/>
<circle cx="1600" cy="1292" r="2.5" stroke-width="1.5"/>
<path d="M1550.4,1469 L1550.4,1480 L1564.7,1480 L1564.7,1469 M1642.1,1460 L1642.1,1473.6 L1656.3,1473.6 L1656.3,1460" stroke-width="2.8"/>
<path d="M1729.7,1324.9 L1735.8,1353.4 L1741.9,1394.1 L1744,1418.6 L1754.1,1416.5 L1754.1,1394.1 L1748,1353.4 L1744,1324.9" stroke-width="2.8"/>
<path d="M1728,1314 L1744,1311 L1746,1330 L1730,1333 Z" fill="#fff" stroke-width="3"/>
<path d="M1731,1318 L1743,1316 M1731,1322 L1744,1320 M1731,1326 L1744,1324" stroke-width="1.8"/>
<path d="M1621.3,1459.2 L1588.9,1519.1" stroke-width="3"/>
</g>
<!-- 438 left -->
<g stroke-width="2.8">
<path d="M699.6,1566 Q700,1562 714.7,1561.9 L738.9,1572.4 L740.4,1604.1 Q739,1608 735.8,1607.1 L701.1,1593.6 Q699.6,1592 699.6,1590.5 Z" stroke-width="4"/>
<path d="M707.2,1570.9 L732.1,1581.5 L732.1,1599.6 L707.9,1590.5 Z" stroke-width="2.5"/>
<path d="M712,1576 L728,1583 L728,1590 L712,1584 Z" fill="#000" stroke-width="1"/>
<path d="M713,1588 L727,1593 M713,1591 L727,1596" stroke-width="1.5"/>
<path d="M722.3,1565 L746.4,1559.6 L772,1569.4 L772.8,1596.6 L740.4,1601.1 M738.9,1573.5 L771,1570" stroke-width="2.8"/>
<path d="M773.6,1575.4 L790.2,1573.2 M795,1572.5 L797.5,1572.2 M803.7,1570.9 L812.8,1569.4" stroke-width="2.5"/>
<path d="M812,1552.1 L816.6,1552.1 L837.7,1560.4 L838.4,1583.7 L836.2,1583.7 L812.8,1573.9 Z M812.8,1569 L838,1565" stroke-width="2.5"/>
<path d="M717.7,1519.6 L731.3,1558.9" stroke-width="3"/>
</g>
<!-- 432 grommet -->
<g stroke-width="2.8">
<path d="M743.4,1739.9 L776.6,1736.9 Q784,1738 785.6,1744.5 Q789,1752 787.9,1756.5 Q788,1763 785.6,1765.6 L757,1771.6" stroke-width="3"/>
<path d="M776.6,1737 Q770,1750 778,1766" stroke-width="2"/>
<path d="M777,1763 L786,1760" stroke-width="3.5"/>
<ellipse cx="740.4" cy="1761" rx="14.5" ry="22" fill="#fff" stroke-width="3.2"/>
<ellipse cx="741" cy="1761.5" rx="10" ry="16" stroke-width="4"/>
<ellipse cx="742" cy="1763" rx="6.5" ry="11" stroke-width="2"/>
<path d="M709.4,1767.8 L738.9,1761" stroke-width="2.5"/>
<path d="M791.7,1750.5 L800.7,1748.2 M805.2,1747.5 L808.3,1746.7" stroke-width="2.5"/>
<ellipse cx="818.8" cy="1743" rx="10" ry="15" stroke-width="2.5"/>
<path d="M810,1733 Q818.8,1726 827,1733 L827,1737 L810,1737 Z M810,1752 L827,1750 Q822,1760 814,1756 Z" fill="#000" stroke-width="1"/>
<path d="M811,1745 L826,1741 M811,1748 L826,1744" stroke-width="1.5"/>
<path d="M706.4,1691.6 L729.8,1735.4" stroke-width="3.5"/>
</g>
<!-- 438 right -->
<g stroke-width="2.8">
<path d="M974.4,1518 Q980,1512 997,1509 L1029.2,1519 Q1034.6,1521 1034.6,1526 L1034.6,1545.5 Q1034,1550 1029.2,1550.8 L997.4,1550.8 L976.2,1543.8 Z" stroke-width="3.5"/>
<path d="M980,1519 L996,1525 L996,1550 M978,1520 L978,1542 M996,1525 L1026,1521 M1027,1522 L1027,1549 M981,1528 L994,1533 M981,1535 L994,1540 M987,1522 L987,1545" stroke-width="2"/>
<path d="M956.3,1540.6 L972.6,1536.3" stroke-width="2.5"/>
<path d="M1006.1,1556.1 L1010.4,1568.9" stroke-width="3"/>
</g>
<!-- 442 damper -->
<g stroke-width="3">
<path d="M972.6,1711.3 Q973,1690 979.5,1678.7 Q984,1668 991.5,1663.3 Q998,1658 1005.2,1657.3 L1072.1,1661.6 Q1076,1664 1073.8,1670.2 L1070.4,1678.7 L1063.5,1687.3 Q1068,1700 1067,1721.6 Q1064,1743 1058.4,1757.7 Q1048,1768 1039.5,1773.1 L1034.4,1792 L1025.8,1790.3 Q1005,1778 991.5,1764.5 Q980,1752 976,1738.8 Q972,1725 972.6,1711.3 Z" stroke-width="5.5"/>
<ellipse cx="989.8" cy="1709.6" rx="9" ry="13" stroke-width="3"/>
<path d="M987,1707 Q989,1700 994,1704" stroke-width="2"/>
<ellipse cx="1014.6" cy="1716.5" rx="8.5" ry="16.5" fill="#000" stroke="none" transform="rotate(-8 1014.6 1716.5)"/>
<path d="M996.6,1737.1 Q1004,1752 1014,1755 L1025.8,1757.7" stroke-width="6"/>
<circle cx="1004" cy="1748" r="4" fill="#000" stroke="none"/><circle cx="1021" cy="1756" r="4" fill="#000" stroke="none"/>
<circle cx="1036" cy="1671" r="6" fill="#000" stroke="none"/>
<circle cx="1063.5" cy="1675" r="5.5" fill="#fff" stroke-width="4"/>
<path d="M955.4,1677 L970,1685.6 M955.4,1718.2 L970.9,1714.8" stroke-width="2.8"/>
<path d="M1084,1642 Q1094,1634 1106,1640" stroke-width="7"/>
<path d="M1084.1,1641 Q1094,1636 1104.7,1639.3 Q1118,1644 1128.7,1653 Q1140,1664 1145.9,1678.7 Q1151,1692 1151,1706.2 Q1151,1720 1147.6,1733.7 Q1140,1746 1128.7,1754.2 Q1112,1762 1094.4,1761.1 Q1080,1756 1072.1,1747.4" stroke-width="4"/>
<path d="M1101.3,1661.6 Q1115,1666 1121.9,1678.7 Q1128,1690 1127,1704.5 Q1126,1720 1120.2,1730.2 Q1113,1740 1103,1744 Q1094,1746 1087.6,1740.5" stroke-width="5"/>
<path d="M1108,1653 Q1130,1660 1138,1685 Q1144,1705 1138,1730" stroke-width="1.8"/>
<path d="M1070,1668 L1084.1,1641 M1070,1690 Q1066,1705 1072,1720 L1076,1730" stroke-width="2.5"/>
<path d="M1142.5,1709.6 L1176.8,1723.4" stroke-width="6"/>
<path d="M1078,1700 Q1084,1690 1094,1694 Q1100,1706 1092,1716 Q1080,1716 1078,1700 Z" fill="#000" stroke-width="2.5"/>
<ellipse cx="1085" cy="1703" rx="3" ry="4" fill="#fff" stroke="none"/>
<path d="M1150.2,1678.7 L1169.9,1674.5 M1175,1673.5 L1178,1672.9 M1183.7,1671.9 L1194,1669.3" stroke-width="2.5"/>
<path d="M1049.8,1767.1 L1077.3,1804.9 L1087.6,1762.8" stroke-width="3"/>
</g>
<!-- 431 -->
<g stroke-width="3">
<ellipse cx="1206" cy="1665" rx="10" ry="12" stroke-width="5"/>
<ellipse cx="1215" cy="1663.5" rx="14.5" ry="19.5" stroke-width="7"/>
<path d="M1213,1655 Q1218,1662 1213,1672 M1219,1654 Q1224,1662 1219,1673" stroke-width="2.5"/>
<path d="M1231.7,1661.6 L1250.6,1656.4" stroke-width="2.5"/>
<path d="M1216.3,1593.8 L1219.7,1637.6" stroke-width="3.5"/>
</g>
<!-- 278 / 312 / 268 -->
<g stroke-width="2.8">
<path d="M1538.9,1693.8 L1605.8,1679.2 L1612.7,1670.6 L1633.2,1667.2 L1638.4,1672.3 L1648.7,1672.3 L1653.8,1678.3 L1691.6,1698.9 L1719.9,1716.9 L1719.9,1723.8 L1677.9,1734.1 L1623,1746.1 L1592.1,1730.6 L1588.6,1727.2 L1538.9,1699.8 Z" stroke-width="3"/>
<path d="M1538.9,1695.5 L1592.1,1725.5 L1623,1742.7 L1719.9,1718.6" stroke-width="2"/>
<path d="M1624.7,1746.1 Q1626,1752 1629.8,1754.7 Q1634,1759 1640.1,1759.8 L1653.8,1757.2 L1671,1751.2 Q1677,1745 1677,1735.8" stroke-width="3"/>
<ellipse cx="1641.8" cy="1749.5" rx="11" ry="8" stroke-width="3"/>
<path d="M1636,1746 L1646,1753 M1640,1744 L1647,1750" stroke-width="1.5"/>
<path d="M1608,1688 Q1612,1676 1620,1680 L1645,1710 L1652,1727 L1660,1730 M1620,1680 L1632,1695 L1648,1712 M1636,1672 L1660,1700 L1676,1725 M1652,1705 Q1668,1700 1675,1718 L1677,1735" stroke-width="2.2"/>
<path d="M1610,1680 L1617,1690" stroke-width="5"/>
<path d="M1593,1699 L1645,1722 L1650,1735 M1570,1700 L1600,1694 M1566,1716 L1600,1720" stroke-width="1.8"/>
<ellipse cx="1614.4" cy="1728.9" rx="7" ry="4" stroke-width="2"/>
<circle cx="1689.9" cy="1710" r="5" stroke-width="2"/>
<ellipse cx="1562" cy="1700.6" rx="3.5" ry="2" stroke-width="1.5"/>
<path d="M1618,1718 L1622,1712 L1625,1719 Z" stroke-width="1.5"/>
<path d="M1595.5,1742.7 L1549.2,1795.8 M1655.6,1763.2 L1670.1,1799.3 M1799.7,1717.8 L1767.9,1768.4" stroke-width="3.2"/>
<path d="M1729.6,1757.1 L1793.1,1794.8 M1732.4,1752.3 L1795.9,1790.0 M1729.6,1757.1 L1732.4,1752.3" stroke-width="2.2"/>
<path d="M1733.8,1760.8 L1736.4,1753.5 M1736.4,1762.3 L1739.0,1755.0 M1738.9,1763.8 L1741.5,1756.5 M1741.5,1765.4 L1744.1,1758.1 M1744.1,1766.9 L1746.7,1759.6 M1746.7,1768.4 L1749.3,1761.1 M1749.3,1770.0 L1751.9,1762.7 M1751.8,1771.5 L1754.4,1764.2 M1754.4,1773.0 L1757.0,1765.7 M1757.0,1774.6 L1759.6,1767.3 " stroke-width="1.6"/>
<circle cx="1801" cy="1797.6" r="9" fill="#000"/>
<path d="M1797,1797 L1804,1795 M1800,1800 L1805,1799" stroke="#fff" stroke-width="1.5"/>
</g>
<!-- 847 spring -->
<g stroke-width="2.5">
<path d="M1221.4,2080.8 L1228,2075" stroke-width="3"/>
<path d="M1230.8,2075.8 L1226.9,2065.2 M1234.2,2073.8 L1230.4,2063.2 M1237.6,2071.8 L1233.8,2061.2 M1241.1,2069.8 L1237.2,2059.2 M1244.5,2067.8 L1240.7,2057.2 M1247.9,2065.8 L1244.1,2055.2 M1251.3,2063.8 L1247.5,2053.2 M1254.8,2061.8 L1250.9,2051.2 M1258.2,2059.8 L1254.4,2049.2 M1261.6,2057.8 L1257.8,2047.2 M1265.1,2055.8 L1261.2,2045.2 M1268.5,2053.8 L1264.7,2043.2 M1271.9,2051.8 L1268.1,2041.2 M1275.3,2049.8 L1271.5,2039.2 M1278.8,2047.8 L1274.9,2037.2 " stroke-width="1.8"/><path d="M1228,2071 L1276,2043" stroke-width="1.2"/>
<path d="M1276,2043 L1281.1,2040.2" stroke-width="2"/>
<path d="M1200,2049.2 L1225.9,2063.9" stroke-width="3"/>
</g>
<!-- 842 latch -->
<g stroke-width="2.8">
<path d="M1287.8,2005.3 L1296.8,2003.1 L1300,2006 L1308.1,2004.2 L1343,2020 L1346.4,2016.6 L1345.3,2027.8 L1341.9,2030.1 L1362.2,2042.5 L1373.4,2041.4 L1375.7,2050.4 L1380.2,2052.6 L1380.2,2063.9 L1375.7,2071.8 L1362.2,2069.5 L1327.3,2050.4 L1327.3,2036.8 L1305.9,2029 L1304.7,2020 L1290.1,2014.3 Z" stroke-width="3"/>
<path d="M1306,2005 L1306,2029 M1327.3,2036.8 L1330,2038 L1330,2050 M1291,2008 L1305,2014 M1362.2,2058 L1378,2055 M1364,2046 L1366,2060 M1370,2044 L1372,2058" stroke-width="2"/>
<ellipse cx="1367" cy="2063" rx="12" ry="6" stroke-width="2.2"/>
<path d="M1337.4,2062.7 L1302.5,2099.9" stroke-width="3.2"/>
</g>
<!-- 451 hinge -->
<g stroke-width="3">
<path d="M1444.4,1964.8 L1488.3,1955.8 L1493.9,1958 L1493.9,1968 L1510.8,1971.5 Q1515,1976 1513.1,1980.5 L1506.3,1985 L1490.5,1985 L1479.3,1981.7 L1468,1972 L1450,1976 M1444.4,1964.8 Q1441,1967 1443.2,1971 L1443.2,2012.1 L1447.7,2016.6 L1481.5,2010.9 L1481.5,1983.9" stroke-width="3.2"/>
<path d="M1450,1976 L1450,2014" stroke-width="2"/>
<path d="M1493.9,1955.8 L1493.9,1968 Q1500,1972 1507.4,1968 L1507.4,1955.8" stroke-width="3"/>
<ellipse cx="1500.7" cy="1954.6" rx="7" ry="3.5" stroke-width="2.5"/>
<ellipse cx="1500.7" cy="1971" rx="11" ry="5" stroke-width="2.5"/>
<circle cx="1464.6" cy="1980.5" r="2.5" stroke-width="1.5"/>
<circle cx="1457.9" cy="2005.3" r="2.5" stroke-width="1.5"/>
<path d="M1468,2017.7 L1480.4,2057.1" stroke-width="3.2"/>
</g>
<!-- 552 lower screw -->
<g stroke-width="2.5">
<path d="M1513.1,2003.1 L1527,2010 M1513,2007 L1525,2013" stroke-width="2"/>
<path d="M1515,2002 L1513,2008 M1519,2004 L1517,2010 M1523,2006 L1521,2012" stroke-width="1.5"/>
<circle cx="1532.2" cy="2013.2" r="6.5" stroke-width="3"/>
<path d="M1529,2011 L1535,2015 M1534,2010 L1530,2016" stroke-width="1.5"/>
<path d="M1540.1,2018.8 L1561.5,2044.7" stroke-width="3"/>
</g>
<!-- 289 clip -->
<g stroke-width="2.8">
<path d="M1150.4,2189.6 L1156.8,2179.3 L1163.2,2175.4 L1171,2174.2 L1173.5,2185.7 L1178.7,2190.9 L1178.7,2228.2 L1165.8,2233.4 L1154.2,2233.4 L1150.4,2221.8 L1156.8,2217.9 L1162,2221.8 L1163.2,2201.2 L1150.4,2190.9" stroke-width="3"/>
<path d="M1163,2176 L1166,2188 L1173.5,2190 L1173.5,2228 M1168,2192 L1168,2226 M1171,2195 L1171,2222" stroke-width="1.8"/>
<path d="M1157,2218 L1160,2228 L1166,2226" stroke-width="2"/>
<path d="M1156.9,2142.9 L1161.8,2171.8" stroke-width="3"/>
</g>
<!-- 840 -->
<g stroke-width="2.8">
<path d="M771.3,2131.9 L856.1,2119.5 L863.6,2124.4 L863.6,2141.9 L793.8,2156.9 L781.3,2159.4 L771.3,2149.4 Z" stroke-width="3"/>
<path d="M779,2134 L793,2138 L863,2126 M793,2138 L793.8,2156.9 M777,2133 L777,2152 M781,2133 L781,2158" stroke-width="2"/>
<path d="M861.1,2117 L935.9,2102 L943.4,2107 L943.4,2126.9 L873.6,2141.9 L861.1,2134.4 Z" stroke-width="3"/>
<path d="M866,2120 L873.6,2123 L943,2109 M873.6,2123 L873.6,2141.9 M864,2122 L864,2136" stroke-width="2"/>
<path d="M891,2156.9 L906,2164 M892,2160 L904,2166" stroke-width="2"/>
<circle cx="911" cy="2166.5" r="6" stroke-width="2.8"/>
<path d="M908,2164 L914,2169 M913,2163 L909,2170" stroke-width="1.5"/>
<path d="M828.7,2159.4 L848.6,2199.3 L888.5,2164.3" stroke-width="3.2"/>
</g>
<!-- 288 grille -->
<g stroke-width="3">
<path d="M938,2317 L948.3,2315.7 L967.6,2322.2 L967.6,2306.7 L976.6,2304.7 L994.6,2315.7 Q999.8,2320 999.8,2326 L999.8,2363.3 Q998,2371 994.6,2374.9 Q987,2381 979.2,2382.7 L967.6,2381.4 L938,2372.4 Z" stroke-width="3.5"/>
<path d="M967.6,2322.2 L968,2333 Q980,2340 999,2334 M968,2333 L968,2381 M975,2340 L976,2375 M978,2340 L979,2375" stroke-width="2"/>
<path d="M1012.7,2283.6 L1637.4,2177.5 Q1646,2176 1648.1,2178.6 L1650.2,2189.3 L1658.8,2197.9 L1658.8,2223.6" stroke-width="4.5"/>
<path d="M1019.1,2287.4 L1648.1,2185 M1023,2290 L1648,2189" stroke-width="2"/>
<path d="M1012.7,2283.6 L1014,2331.2 M1023,2288.7 L1023,2329.9" stroke-width="3"/>
<path d="M1024.2,2291.3 L1051.3,2301.6 L1051.3,2337.6 M1051.3,2301.6 L1652.4,2202.2 L1652.4,2247.2" stroke-width="2.2"/>
<path d="M999.8,2365.9 L1380,2303 L1684.6,2249.4 L1697.4,2249.4 L1723.2,2255.8 L1736,2253.7 Q1745,2248 1748.9,2243 Q1754,2236 1754.3,2230.1 L1754.3,2200" stroke-width="4.5"/>
<path d="M999.8,2335 L1023,2331.2 M999.8,2350.5 L1051.3,2338.9 M1051.3,2351.8 L1684.6,2247 M1053.8,2346 L1660,2245" stroke-width="2.2"/>
<path d="M1053.8,2307 L1182.5,2287 M1053.8,2313 L1182.5,2293 M1053.8,2320 L1652,2222 M1053.8,2327 L1652,2229 M1053.8,2333 L1652,2235 M1053.8,2340 L1652,2242 M1190,2285 L1190,2296 L1282,2280 L1282,2270 L1190,2285 M1300,2267 L1300,2276 L1400,2260 L1400,2250 Z M1408,2249 L1652,2209 M1408,2256 L1652,2216 M1400,2250 L1408,2249" stroke-width="2"/>
<path d="M1673.8,2186.1 L1673.8,2221.5 L1656.7,2225.8 L1656.7,2235.4 L1684.6,2232.2 L1717.8,2234.4 L1680.3,2222.6 L1656.7,2225.8 M1684.6,2232.2 L1684.6,2249.4 M1673.8,2186.1 L1679,2185 L1716,2197" stroke-width="3"/>
<path d="M1716.7,2187.2 L1723.2,2184 L1744.6,2192.5 Q1748,2197 1746.7,2202.2 L1742.5,2206.5 L1727.5,2205.4 L1715.7,2201.1 Z M1744.6,2192.5 L1754.3,2200" stroke-width="3"/>
<path d="M1463.6,2296.5 L1486,2338.9" stroke-width="3"/>
</g>

</g>
<g class="t" opacity="0.999">
<text transform="translate(1402.6,120.8) scale(0.835,1)" font-size="41.6" font-weight="normal">578</text>
<text transform="translate(1150.2,139.7) scale(0.792,1)" font-size="42.8" font-weight="normal">447</text>
<text transform="translate(1194.6,250.3) scale(0.824,1)" font-size="41.6" font-weight="normal">552</text>
<text transform="translate(1159.2,309.8) scale(0.841,1)" font-size="41.6" font-weight="normal">448</text>
<text transform="translate(960.3,520.3) scale(0.781,1)" font-size="41.6" font-weight="normal">443</text>
<text transform="translate(1209.2,487.3) scale(0.811,1)" font-size="41.6" font-weight="normal">443</text>
<text transform="translate(1039.3,572.3) scale(0.797,1)" font-size="41.6" font-weight="normal">251</text>
<text transform="translate(1397.2,606.3) scale(0.825,1)" font-size="41.6" font-weight="normal">425</text>
<text transform="translate(612.3,623.5) scale(0.788,1)" font-size="42.2" font-weight="normal">427</text>
<text transform="translate(936.2,638.3) scale(0.826,1)" font-size="41.6" font-weight="normal">428</text>
<text transform="translate(1063.5,651.2) scale(0.788,1)" font-size="42.8" font-weight="normal">177</text>
<text transform="translate(1267.2,668.8) scale(0.856,1)" font-size="41.6" font-weight="normal">428</text>
<text transform="translate(753.2,742.3) scale(0.827,1)" font-size="41.6" font-weight="normal">439</text>
<text transform="translate(1462.2,723.8) scale(0.826,1)" font-size="41.6" font-weight="normal">436</text>
<text transform="translate(1681.2,746.8) scale(0.827,1)" font-size="41.6" font-weight="normal">419</text>
<text transform="translate(754.2,789.7) scale(0.818,1)" font-size="42.2" font-weight="normal">422</text>
<text transform="translate(687.2,820.8) scale(0.826,1)" font-size="41.6" font-weight="normal">426</text>
<text transform="translate(1099.3,884.2) scale(0.777,1)" font-size="42.2" font-weight="normal">424</text>
<text transform="translate(1507.2,844.8) scale(0.844,1)" font-size="41.6" font-weight="normal">257</text>
<text transform="translate(1184.2,902.8) scale(0.825,1)" font-size="41.6" font-weight="normal">435</text>
<text transform="translate(1084.2,949.8) scale(0.811,1)" font-size="41.6" font-weight="normal">426</text>
<text transform="translate(1510.3,923.2) scale(0.787,1)" font-size="42.2" font-weight="normal">421</text>
<text transform="translate(1792.2,944.8) scale(0.823,1)" font-size="41.6" font-weight="normal">420</text>
<text transform="translate(597.3,980.8) scale(0.842,1)" font-size="41.6" font-weight="normal">259</text>
<text transform="translate(1036.2,1026.8) scale(0.811,1)" font-size="41.6" font-weight="normal">423</text>
<text transform="translate(1167.2,1016.3) scale(0.826,1)" font-size="41.6" font-weight="normal">436</text>
<text transform="translate(1787.2,1121.2) scale(0.802,1)" font-size="42.2" font-weight="normal">421</text>
<text transform="translate(1099.2,1106.2) scale(0.795,1)" font-size="42.8" font-weight="normal">444</text>
<text transform="translate(934.5,1176.8) scale(0.809,1)" font-size="41.6" font-weight="normal">189</text>
<text transform="translate(1534.2,1192.8) scale(0.811,1)" font-size="41.6" font-weight="normal">446</text>
<text transform="translate(589.2,1224.8) scale(0.803,1)" font-size="41.6" font-weight="normal">434</text>
<text transform="translate(1413.5,1226.8) scale(0.840,1)" font-size="41.6" font-weight="normal">812</text>
<text transform="translate(1788.6,1325.8) scale(0.810,1)" font-size="41.6" font-weight="normal">812</text>
<text transform="translate(920.2,1395.3) scale(0.826,1)" font-size="41.6" font-weight="normal">433</text>
<text transform="translate(682.2,1511.8) scale(0.841,1)" font-size="41.6" font-weight="normal">438</text>
<text transform="translate(1559.5,1557.1) scale(0.834,1)" font-size="41.6" font-weight="normal">810</text>
<text transform="translate(992.2,1604.8) scale(0.826,1)" font-size="41.6" font-weight="normal">438</text>
<text transform="translate(1190.3,1586.3) scale(0.798,1)" font-size="41.6" font-weight="normal">431</text>
<text transform="translate(671.2,1684.8) scale(0.815,1)" font-size="41.6" font-weight="normal">432</text>
<text transform="translate(1788.3,1709.3) scale(0.840,1)" font-size="41.6" font-weight="normal">268</text>
<text transform="translate(1057.2,1837.7) scale(0.818,1)" font-size="42.2" font-weight="normal">442</text>
<text transform="translate(1517.3,1831.3) scale(0.840,1)" font-size="41.6" font-weight="normal">278</text>
<text transform="translate(1641.8,1832.3) scale(0.792,1)" font-size="41.6" font-weight="normal">312</text>
<text transform="translate(1136.6,2060.3) scale(0.810,1)" font-size="41.6" font-weight="normal">847</text>
<text transform="translate(1456.3,2089.8) scale(0.772,1)" font-size="42.2" font-weight="normal">451</text>
<text transform="translate(1555.6,2076.3) scale(0.839,1)" font-size="41.6" font-weight="normal">552</text>
<text transform="translate(1250.5,2135.8) scale(0.825,1)" font-size="41.6" font-weight="normal">842</text>
<text transform="translate(1126.3,2134.3) scale(0.826,1)" font-size="41.6" font-weight="normal">289</text>
<text transform="translate(818.5,2237.8) scale(0.849,1)" font-size="41.6" font-weight="normal">840</text>
<text transform="translate(1467.3,2377.4) scale(0.840,1)" font-size="41.6" font-weight="normal">288</text>
<text transform="translate(336.7,2176.1) scale(1.000,1)" font-size="30.9" font-weight="bold">(ART</text>
<text transform="translate(421.8,2176.1) scale(1.056,1)" font-size="30.9" font-weight="bold">NO.</text>
<text transform="translate(492.6,2176.1) scale(0.967,1)" font-size="30.9" font-weight="bold">WR18625</text>
<text transform="translate(633.9,2176.1) scale(1.096,1)" font-size="30.9" font-weight="bold">C2)</text>
</g>
</svg>
</body></html>
